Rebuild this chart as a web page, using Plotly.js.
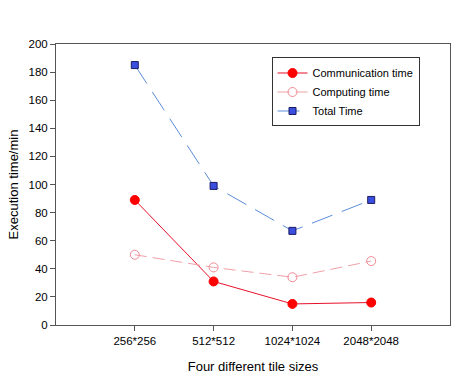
<!DOCTYPE html>
<html><head><meta charset="utf-8">
<script src="https://cdn.plot.ly/plotly-3.0.1.min.js"></script>
<style>body{margin:0;background:#fff}#c{width:474px;height:376px}</style>
</head><body><div id="c"></div>
<script>
const categories = ["256*256", "512*512", "1024*1024", "2048*2048"];
const communication = [89, 31, 15, 16];
const computing = [50, 41, 34, 45.5];
const total = [185, 99, 67, 89];

const traces = [
  {x: categories, y: communication, name: "Communication time", type: "scatter", mode: "lines+markers",
   line: {color: "#e8102a", width: 1}, marker: {symbol: "circle", size: 9, color: "#ff0000", line: {color: "#ff0000", width: 1}}},
  {x: categories, y: computing, name: "Computing time", type: "scatter", mode: "lines+markers",
   line: {color: "#f0a0a8", width: 1, dash: "12px,6px"}, marker: {symbol: "circle-open", size: 9, color: "#f08a94", line: {width: 1}}},
  {x: categories, y: total, name: "Total Time", type: "scatter", mode: "lines+markers",
   line: {color: "#5b8ed8", width: 1, dash: "22px,10px"}, marker: {symbol: "square", size: 7, color: "#3a4fe0", line: {color: "#1a1a60", width: 1}}}
];

const layout = {
  width: 474, height: 376,
  margin: {l: 56, r: 24, t: 44, b: 51},
  paper_bgcolor: "#fff", plot_bgcolor: "#fff",
  font: {family: "Liberation Sans, Arial, sans-serif", color: "#000", size: 11.5},
  showlegend: true,
  legend: {x: 0.547, y: 0.952, xanchor: "left", yanchor: "top", bgcolor: "#fff", bordercolor: "#333", borderwidth: 1,
           font: {size: 11}, itemwidth: 30, tracegroupgap: 0},
  xaxis: {type: "category", range: [-1, 4], showgrid: false, zeroline: false, showline: true, mirror: true,
          linecolor: "#555", linewidth: 1, ticks: "outside", ticklen: 5, tickcolor: "#555",
          title: {text: "Four different tile sizes", font: {size: 13}, standoff: 16}},
  yaxis: {range: [0, 200], dtick: 20, showgrid: false, zeroline: false, showline: true, mirror: true,
          linecolor: "#555", linewidth: 1, ticks: "outside", ticklen: 5, tickcolor: "#555",
          title: {text: "Execution time/min", font: {size: 13}, standoff: 6}}
};
Plotly.newPlot("c", traces, layout, {displayModeBar: false, staticPlot: true});
</script></body></html>
